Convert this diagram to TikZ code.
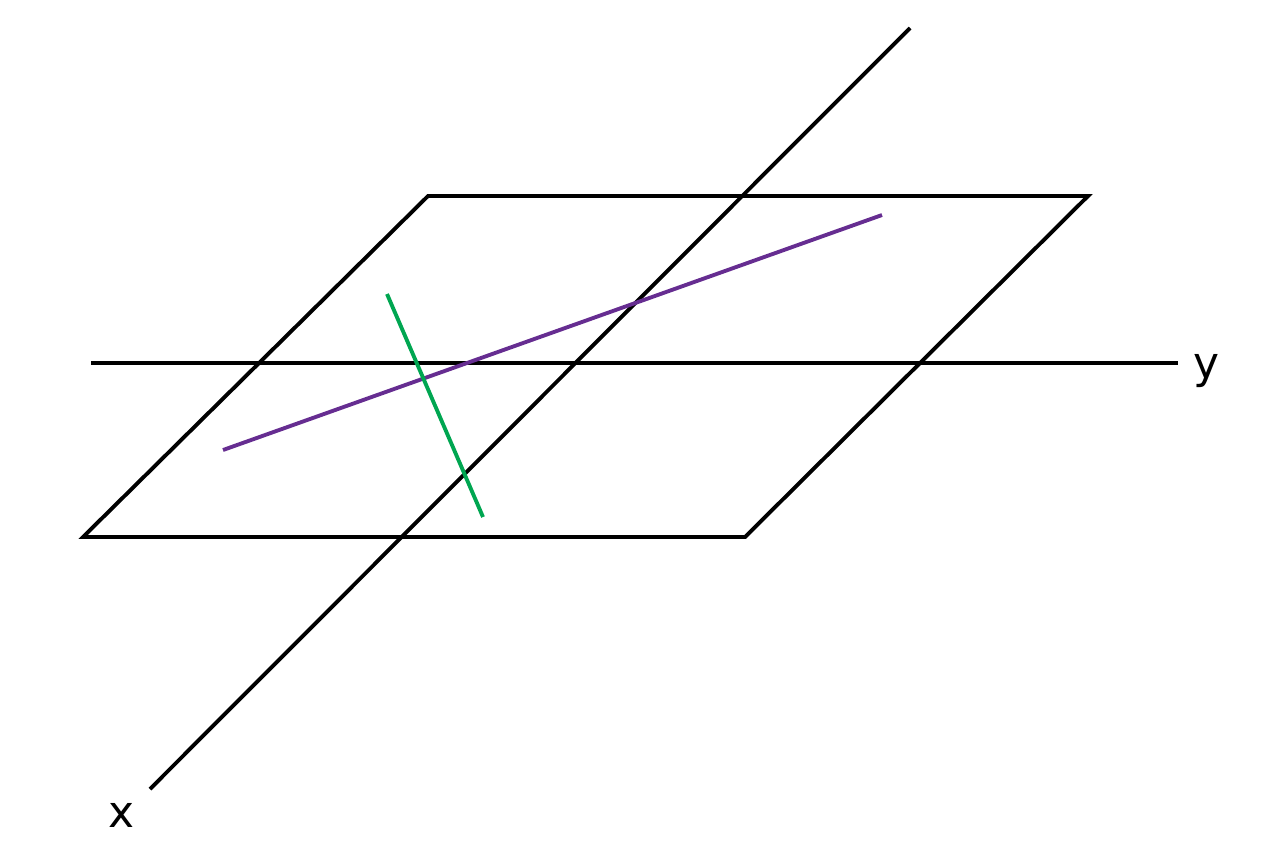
\documentclass[tikz,border=0pt]{standalone}
\usepackage{fontspec}
\setmainfont{DejaVu Sans}
\usetikzlibrary{calc}
\definecolor{linepurple}{RGB}{102,45,145}
\definecolor{linegreen}{RGB}{0,166,81}

\begin{document}
\begin{tikzpicture}[x=0.01cm,y=-0.01cm, line width=1.1pt,
    axis/.style={draw=black}, plane/.style={draw=black,line join=miter},
    lbl/.style={font=\fontsize{12.5pt}{14pt}\selectfont,inner sep=0pt}]
  \useasboundingbox (0,0) rectangle (1264,844);
  \coordinate (P1) at (83,537);
  \coordinate (P2) at (745,537);
  \coordinate (P3) at (1088,196);
  \coordinate (P4) at (428,196);
  \coordinate (X0) at (150,789);
  \coordinate (X1) at (910,28);
  \coordinate (Y0) at (91,363);
  \coordinate (Y1) at (1178,363);
  \coordinate (A) at (223,450);
  \coordinate (B) at (882,215);
  \coordinate (C) at (387,294);
  \coordinate (D) at (483,517);
  \draw[plane] (P1) -- (P2) -- (P3) -- (P4) -- cycle;
  \draw[axis] (X0) -- (X1);
  \draw[axis] (Y0) -- (Y1);
  \draw[linepurple] (A) -- (B);
  \draw[linegreen] (C) -- (D);
  \node[lbl] (xlab) at (122,815) {x};
  \node[lbl] (ylab) at (1206,371) {y};
\end{tikzpicture}
\end{document}
